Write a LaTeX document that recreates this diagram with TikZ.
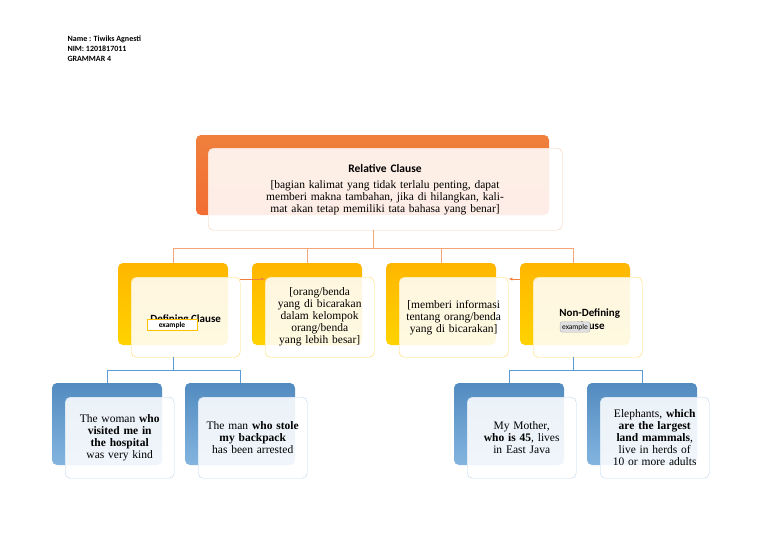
\documentclass[tikz,border=0pt]{standalone}
\usepackage{fontspec}
\setmainfont{Liberation Serif}
\newfontfamily\carl{Carlito}
\definecolor{oback}{HTML}{F0803C}
\definecolor{yback}{HTML}{FFC000}
\definecolor{bback}{HTML}{5B9BD5}
\begin{document}
\begin{tikzpicture}[x=1pt,y=-1pt,
 back/.style={rounded corners=5pt},
 front/.style={draw=#1,fill=white,fill opacity=0.88,text opacity=1,rounded corners=5pt,align=center},
 ln/.style={draw=#1,line width=0.6pt},
 txt/.style={align=center,text width=#1,font=\fontsize{11.5}{12}\selectfont}]
\useasboundingbox (0,0) rectangle (768,543);
\node[anchor=north west,align=left,font=\carl\fontsize{8}{10}\selectfont\bfseries] (hdr) at (64,32) {Name : Tiwiks Agnesti\\NIM: 1201817011\\GRAMMAR 4};
% top
\shade[back,top color=oback,bottom color=oback!85!red] (196,135) rectangle (549,215);
\node[front=oback!40,minimum width=354pt,minimum height=82pt,anchor=north west] (top) at (208,148) {};
\node[txt=330pt] (toptxt) at (385,190) {{\carl\bfseries Relative Clause}\\[4pt][bagian kalimat yang tidak terlalu penting, dapat memberi makna tambahan, jika di hilangkan, kalimat akan tetap memiliki tata bahasa yang benar]};
% connectors level 1
\coordinate (h1) at (373,248);
\draw[ln=oback!70] (top.south -| h1) -- (h1);
\draw[ln=oback!70] (173,248) -- (573,248);
\foreach \x in {173,307,441,573} \draw[ln=oback!70] (\x,248) -- (\x,263);
% level 2
\foreach \x/\n in {118/a,252/b,386/c,520/d}{
 \shade[back,top color=yback!85!orange,bottom color=yback!70!yellow] (\x,263) rectangle ++(110,82);
 \node[front=yback!60,minimum width=109pt,minimum height=80pt,anchor=north west] (\n) at (\x+13,277) {};
}
\node[font=\carl\bfseries\fontsize{11}{12}\selectfont] (at) at ([yshift=-2pt]a) {Defining Clause};
\node[draw=yback,line width=0.8pt,fill=white,font=\carl\bfseries\fontsize{7.5}{8}\selectfont,minimum width=50pt,inner sep=2pt] (ex1) at (172,325) {example};
\node[txt=92pt] (bt) at (b) {[orang/benda yang di bicarakan dalam kelompok orang/benda yang lebih besar]};
\node[txt=100pt] (ct) at (c) {[memberi informasi tentang orang/benda yang di bicarakan]};
\node[align=center,font=\carl\bfseries\fontsize{11}{13}\selectfont] (dt) at ([xshift=2pt,yshift=-2pt]d) {Non-Defining\\Clause};
\node[fill=gray!25,draw=gray!60,rounded corners=2pt,font=\carl\fontsize{7.5}{8}\selectfont,inner sep=2pt] (ex2) at (575,327) {example};
\draw[oback,-latex] (a.east |- 0,279) -- (b.west |- 0,279);
\draw[oback,-latex] (520,279) -- (c.east |- 0,279);
% level 3 connectors
\draw[ln=bback] (a.south -| 173,0) -- (173,370);
\draw[ln=bback] (107,370) -- (240,370);
\draw[ln=bback] (107,370) -- (107,383);
\draw[ln=bback] (240,370) -- (240,383);
\draw[ln=bback] (d.south -| 573,0) -- (573,370);
\draw[ln=bback] (509,370) -- (642,370);
\draw[ln=bback] (509,370) -- (509,383);
\draw[ln=bback] (642,370) -- (642,383);
% level 3
\foreach \x/\n in {52/e,185/f,454/g,587/h}{
 \shade[back,top color=bback!90!black,bottom color=bback!75] (\x,383) rectangle ++(110,82);
 \node[front=bback!40,minimum width=109pt,minimum height=81pt,anchor=north west] (\n) at (\x+13,397) {};
}
\node[txt=92pt] at (e) {The woman \textbf{who visited me in the hospital} was very kind};
\node[txt=92pt] at (f) {The man \textbf{who stole my backpack} has been arrested};
\node[txt=92pt] at (g) {My Mother, \textbf{who is 45}, lives in East Java};
\node[txt=95pt] at (h) {Elephants, \textbf{which are the largest land mammals}, live in herds of 10 or more adults};
\end{tikzpicture}
\end{document}
